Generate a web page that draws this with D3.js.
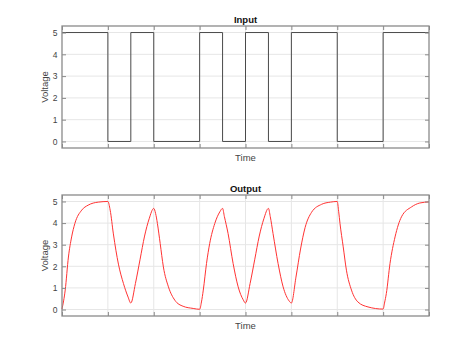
<!DOCTYPE html>
<html>
<head>
<meta charset="utf-8">
<script src="https://cdn.jsdelivr.net/npm/d3@7"></script>
<style>
  html, body { margin: 0; padding: 0; background: #fff; }
  svg { display: block; }
</style>
</head>
<body>
<svg id="chart" width="474" height="355"></svg>
<script>
'use strict';

// ── データ ────────────────────────────────────────────
const xTicks = [0, 1, 2, 3, 4, 5, 6, 7, 8];
const yTicks = [0, 1, 2, 3, 4, 5];

// 入力: 矩形波（切替時刻とその後のレベル）
const inputTimes  = [0, 1, 1.5, 2, 3, 3.5, 4, 4.5, 5, 6, 7, 8];
const inputLevels = [5, 0, 5,   0, 5, 0,   5, 0,   5, 0, 5, 5];

// 出力: 図から読み取った点
const outputTimes = [
  0, 0.07, 0.14, 0.21, 0.28, 0.43, 0.57, 0.79, 1.0,
  1.05, 1.12, 1.23, 1.34, 1.44, 1.5,
  1.6, 1.7, 1.8, 1.9, 2.0,
  2.04, 2.08, 2.14, 2.21, 2.32, 2.46, 2.64, 2.86, 3.0,
  3.04, 3.08, 3.15, 3.22, 3.33, 3.44, 3.5,
  3.54, 3.62, 3.73, 3.84, 3.95, 4.0,
  4.1, 4.2, 4.3, 4.4, 4.5,
  4.54, 4.6, 4.71, 4.82, 4.95, 5.0,
  5.1, 5.2, 5.3, 5.44, 5.66, 5.85, 6.0,
  6.03, 6.06, 6.13, 6.2, 6.31, 6.45, 6.67, 7.0,
  7.03, 7.07, 7.15, 7.26, 7.4, 7.62, 7.8, 8.0
];
const outputValues = [
  0.02, 0.9, 2.43, 3.36, 3.98, 4.6, 4.83, 4.97, 5.0,
  4.6, 3.5, 2.1, 1.2, 0.58, 0.3,
  1.2, 2.3, 3.4, 4.2, 4.68,
  4.45, 3.98, 3.06, 1.97, 1.05, 0.43, 0.15, 0.05, 0.01,
  0.35, 0.9, 2.13, 3.06, 3.98, 4.52, 4.68,
  4.3, 3.52, 2.13, 1.05, 0.45, 0.3,
  1.2, 2.3, 3.4, 4.2, 4.68,
  4.3, 3.52, 2.13, 1.05, 0.4, 0.3,
  1.5, 2.8, 3.8, 4.5, 4.87, 4.97, 5.0,
  4.55, 3.98, 2.9, 1.82, 0.9, 0.35, 0.12, 0.02,
  0.3, 0.74, 2.13, 3.36, 4.29, 4.75, 4.93, 4.98
];

// ── レイアウト ───────────────────────────────────────
const panels = [
  { title: 'Input',  top: 26,  bottom: 148, kind: 'input' },
  { title: 'Output', top: 195, bottom: 316, kind: 'output' },
];
const left = 62, right = 429;
const FONT = 'Liberation Sans, Arial, Helvetica, sans-serif';

const svg = d3.select('#chart');

const x = d3.scaleLinear().domain([0, 8]).range([left, right]);

panels.forEach(p => {
  const y = d3.scaleLinear().domain([-0.3, 5.3]).range([p.bottom, p.top]);
  const g = svg.append('g');

  // グリッド
  g.append('g').selectAll('line').data(xTicks.slice(1, -1)).join('line')
    .attr('x1', d => x(d)).attr('x2', d => x(d))
    .attr('y1', p.top).attr('y2', p.bottom)
    .attr('stroke', '#e6e6e6').attr('stroke-width', 1);
  g.append('g').selectAll('line').data(yTicks).join('line')
    .attr('x1', left).attr('x2', right)
    .attr('y1', d => y(d)).attr('y2', d => y(d))
    .attr('stroke', '#e6e6e6').attr('stroke-width', 1);

  // データ線
  if (p.kind === 'input') {
    const pts = inputTimes.map((t, i) => [t, inputLevels[i]]);
    g.append('path')
      .datum(pts)
      .attr('fill', 'none')
      .attr('stroke', '#4a4a4a')
      .attr('stroke-width', 1)
      .attr('d', d3.line().x(d => x(d[0])).y(d => y(d[1])).curve(d3.curveStepAfter));
  } else {
    const pts = outputTimes.map((t, i) => [t, outputValues[i]]);
    g.append('path')
      .datum(pts)
      .attr('fill', 'none')
      .attr('stroke', '#ff3333')
      .attr('stroke-width', 1)
      .attr('d', d3.line().x(d => x(d[0])).y(d => y(d[1])).curve(d3.curveMonotoneX));
  }

  // 軸（内向き目盛り、ボックス）
  const axisColor = '#8a8a8a';
  const bottomAxis = g.append('g').attr('transform', `translate(0,${p.bottom})`)
    .call(d3.axisBottom(x).tickValues(xTicks).tickSize(-4).tickFormat(''));
  const topAxis = g.append('g').attr('transform', `translate(0,${p.top})`)
    .call(d3.axisTop(x).tickValues(xTicks).tickSize(-4).tickFormat(''));
  const leftAxis = g.append('g').attr('transform', `translate(${left},0)`)
    .call(d3.axisLeft(y).tickValues(yTicks).tickSize(-4).tickPadding(4.5).tickFormat(d3.format('d')));
  const rightAxis = g.append('g').attr('transform', `translate(${right},0)`)
    .call(d3.axisRight(y).tickValues(yTicks).tickSize(-4).tickFormat(''));

  [bottomAxis, topAxis, leftAxis, rightAxis].forEach(a => {
    a.select('.domain').remove();
    a.selectAll('line').attr('stroke', axisColor);
  });
  leftAxis.selectAll('text')
    .attr('fill', '#444').attr('font-size', 8.5).attr('font-family', FONT);

  g.append('rect')
    .attr('x', left).attr('y', p.top)
    .attr('width', right - left).attr('height', p.bottom - p.top)
    .attr('fill', 'none').attr('stroke', axisColor).attr('stroke-width', 1.3);

  // タイトル・ラベル
  const cx = (left + right) / 2;
  g.append('text')
    .attr('x', cx).attr('y', p.top - 3.5)
    .attr('text-anchor', 'middle')
    .attr('font-family', FONT).attr('font-size', 9.5).attr('font-weight', 700)
    .attr('fill', '#111')
    .text(p.title);
  g.append('text')
    .attr('x', cx).attr('y', p.bottom + 13)
    .attr('text-anchor', 'middle')
    .attr('font-family', FONT).attr('font-size', 9.5)
    .attr('fill', '#444')
    .text('Time');
  g.append('text')
    .attr('transform', `translate(48,${(p.top + p.bottom) / 2}) rotate(-90)`)
    .attr('text-anchor', 'middle')
    .attr('font-family', FONT).attr('font-size', 9.5)
    .attr('fill', '#444')
    .text('Voltage');
});
</script>
</body>
</html>
